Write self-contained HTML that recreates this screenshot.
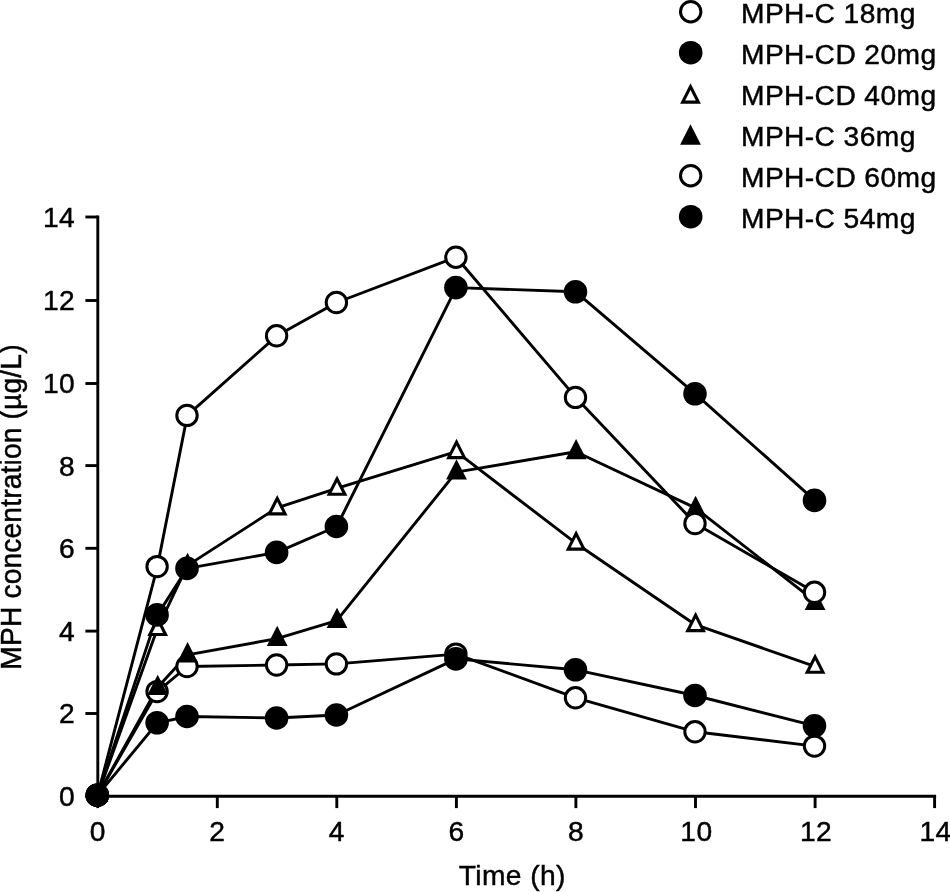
<!DOCTYPE html>
<html lang="en"><head><meta charset="utf-8"><title>MPH concentration vs time</title>
<style>
html,body{margin:0;padding:0;background:#fff}
svg{display:block}
text{font-family:"Liberation Sans",Arial,Helvetica,sans-serif;font-size:28.2px;letter-spacing:0.4px;fill:#000;stroke:#000;stroke-width:0.45px}
</style></head><body>
<svg width="950" height="892" viewBox="0 0 950 892">
<rect width="950" height="892" fill="#fff"/>
<g stroke="#000" stroke-width="2.9" fill="none">
<path d="M97.8,215.6 V797.7"/>
<path d="M96.3,796.2 H936.1"/>
<path d="M85.4,217.0 H97.8"/>
<path d="M85.4,300.5 H97.8"/>
<path d="M85.4,383.5 H97.8"/>
<path d="M85.4,465.6 H97.8"/>
<path d="M85.4,548.3 H97.8"/>
<path d="M85.4,631.1 H97.8"/>
<path d="M85.4,713.5 H97.8"/>
<path d="M85.4,796.4 H97.8"/>
<path d="M97.7,796.2 V808.1"/>
<path d="M217.3,796.2 V808.1"/>
<path d="M336.8,796.2 V808.1"/>
<path d="M456.4,796.2 V808.1"/>
<path d="M575.9,796.2 V808.1"/>
<path d="M695.5,796.2 V808.1"/>
<path d="M815.1,796.2 V808.1"/>
<path d="M934.6,796.2 V808.1"/>
</g>
<g>
<text x="75.2" y="226.9" text-anchor="end">14</text>
<text x="75.2" y="310.4" text-anchor="end">12</text>
<text x="75.2" y="393.4" text-anchor="end">10</text>
<text x="75.2" y="475.5" text-anchor="end">8</text>
<text x="75.2" y="558.2" text-anchor="end">6</text>
<text x="75.2" y="641.0" text-anchor="end">4</text>
<text x="75.2" y="723.4" text-anchor="end">2</text>
<text x="75.2" y="806.3" text-anchor="end">0</text>
<text x="97.8" y="840.7" text-anchor="middle">0</text>
<text x="217.4" y="840.7" text-anchor="middle">2</text>
<text x="336.9" y="840.7" text-anchor="middle">4</text>
<text x="456.5" y="840.7" text-anchor="middle">6</text>
<text x="576.0" y="840.7" text-anchor="middle">8</text>
<text x="696.4" y="840.7" text-anchor="middle">10</text>
<text x="816.0" y="840.7" text-anchor="middle">12</text>
<text x="935.5" y="840.7" text-anchor="middle">14</text>
</g>
<g>
<text x="512.3" y="885.4" text-anchor="middle">Time (h)</text>
<text transform="translate(20.8,507.0) scale(1.06,1) rotate(-90)" text-anchor="middle" style="letter-spacing:0.15px">MPH concentration (µg/L)</text>
</g>
<g fill="none" stroke="#000" stroke-width="2.9" stroke-linejoin="round">
<polyline points="97.6,795.2 157.4,691.6 187.3,666.5 276.9,665.0 336.7,663.9 456.2,654.1 575.8,697.8 695.3,731.8 814.8,746.1"/>
<polyline points="97.6,795.2 157.4,722.8 187.3,716.5 276.9,718.0 336.7,715.0 456.2,658.9 575.8,669.8 695.3,695.5 814.8,725.8"/>
<polyline points="97.6,795.2 157.4,628.6 187.3,565.6 276.9,507.9 336.7,488.3 456.2,451.7 575.8,543.2 695.3,624.7 814.8,666.3"/>
<polyline points="97.6,795.2 157.4,687.6 187.3,654.9 276.9,638.6 336.7,620.6 456.2,472.1 575.8,451.7 695.3,507.9 814.8,601.1"/>
<polyline points="97.6,795.2 157.4,566.6 187.3,415.4 276.9,335.8 336.7,302.5 456.2,257.2 575.8,397.4 695.3,523.5 814.8,592.3"/>
<polyline points="97.6,795.2 157.4,614.9 187.3,568.4 276.9,552.4 336.7,526.5 456.2,287.6 575.8,291.8 695.3,393.8 814.8,500.4"/>
</g>
<g><circle cx="97.3" cy="795.2" r="10.2" fill="#fff" stroke="#000" stroke-width="3"/><circle cx="157.1" cy="691.6" r="10.2" fill="#fff" stroke="#000" stroke-width="3"/><circle cx="187.0" cy="666.5" r="10.2" fill="#fff" stroke="#000" stroke-width="3"/><circle cx="276.6" cy="665.0" r="10.2" fill="#fff" stroke="#000" stroke-width="3"/><circle cx="336.4" cy="663.9" r="10.2" fill="#fff" stroke="#000" stroke-width="3"/><circle cx="455.9" cy="654.1" r="10.2" fill="#fff" stroke="#000" stroke-width="3"/><circle cx="575.5" cy="697.8" r="10.2" fill="#fff" stroke="#000" stroke-width="3"/><circle cx="695.0" cy="731.8" r="10.2" fill="#fff" stroke="#000" stroke-width="3"/><circle cx="814.5" cy="746.1" r="10.2" fill="#fff" stroke="#000" stroke-width="3"/></g>
<g><circle cx="97.3" cy="795.2" r="11.8"/><circle cx="157.1" cy="722.8" r="11.8"/><circle cx="187.0" cy="716.5" r="11.8"/><circle cx="276.6" cy="718.0" r="11.8"/><circle cx="336.4" cy="715.0" r="11.8"/><circle cx="455.9" cy="658.9" r="11.8"/><circle cx="575.5" cy="669.8" r="11.8"/><circle cx="695.0" cy="695.5" r="11.8"/><circle cx="814.5" cy="725.8" r="11.8"/></g>
<g><polygon points="97.9,781.6 108.3,802.0 87.5,802.0"/><polygon fill="#fff" points="97.9,788.4 103.2,798.9 92.6,798.9"/><polygon points="157.7,615.7 168.1,636.1 147.3,636.1"/><polygon fill="#fff" points="157.7,622.5 163.0,633.0 152.3,633.0"/><polygon points="187.6,552.7 198.0,573.1 177.2,573.1"/><polygon fill="#fff" points="187.6,559.5 192.9,570.0 182.2,570.0"/><polygon points="277.2,495.0 287.6,515.4 266.8,515.4"/><polygon fill="#fff" points="277.2,501.8 282.6,512.3 271.9,512.3"/><polygon points="337.0,475.4 347.4,495.8 326.6,495.8"/><polygon fill="#fff" points="337.0,482.2 342.3,492.7 331.6,492.7"/><polygon points="456.5,438.8 466.9,459.2 446.1,459.2"/><polygon fill="#fff" points="456.5,445.6 461.9,456.1 451.2,456.1"/><polygon points="576.1,530.3 586.5,550.7 565.7,550.7"/><polygon fill="#fff" points="576.1,537.1 581.4,547.6 570.7,547.6"/><polygon points="695.6,611.8 706.0,632.2 685.2,632.2"/><polygon fill="#fff" points="695.6,618.6 700.9,629.1 690.3,629.1"/><polygon points="815.1,653.4 825.5,673.8 804.7,673.8"/><polygon fill="#fff" points="815.1,660.2 820.5,670.7 809.8,670.7"/></g>
<g><polygon points="97.9,781.6 108.3,802.0 87.5,802.0"/><polygon points="157.7,674.7 168.1,695.1 147.3,695.1"/><polygon points="187.6,642.0 198.0,662.4 177.2,662.4"/><polygon points="277.2,625.7 287.6,646.1 266.8,646.1"/><polygon points="337.0,607.7 347.4,628.1 326.6,628.1"/><polygon points="456.5,459.2 466.9,479.6 446.1,479.6"/><polygon points="576.1,438.9 586.5,459.3 565.7,459.3"/><polygon points="695.6,495.8 706.0,516.2 685.2,516.2"/><polygon points="815.1,589.7 825.5,610.1 804.7,610.1"/></g>
<g><circle cx="97.3" cy="795.2" r="10.2" fill="#fff" stroke="#000" stroke-width="3"/><circle cx="157.1" cy="566.6" r="10.2" fill="#fff" stroke="#000" stroke-width="3"/><circle cx="187.0" cy="415.4" r="10.2" fill="#fff" stroke="#000" stroke-width="3"/><circle cx="276.6" cy="335.8" r="10.2" fill="#fff" stroke="#000" stroke-width="3"/><circle cx="336.4" cy="302.5" r="10.2" fill="#fff" stroke="#000" stroke-width="3"/><circle cx="455.9" cy="257.2" r="10.2" fill="#fff" stroke="#000" stroke-width="3"/><circle cx="575.5" cy="397.4" r="10.2" fill="#fff" stroke="#000" stroke-width="3"/><circle cx="695.0" cy="523.5" r="10.2" fill="#fff" stroke="#000" stroke-width="3"/><circle cx="814.5" cy="592.3" r="10.2" fill="#fff" stroke="#000" stroke-width="3"/></g>
<g><circle cx="97.3" cy="795.2" r="11.8"/><circle cx="157.1" cy="614.9" r="11.8"/><circle cx="187.0" cy="568.4" r="11.8"/><circle cx="276.6" cy="552.4" r="11.8"/><circle cx="336.4" cy="526.5" r="11.8"/><circle cx="455.9" cy="287.6" r="11.8"/><circle cx="575.5" cy="291.8" r="11.8"/><circle cx="695.0" cy="393.8" r="11.8"/><circle cx="814.5" cy="500.4" r="11.8"/></g>
<g>
<circle cx="690.7" cy="11.7" r="10.2" fill="#fff" stroke="#000" stroke-width="3"/>
<text x="741.0" y="23.2">MPH-C 18mg</text>
<circle cx="690.7" cy="52.7" r="11.8"/>
<text x="741.0" y="64.2">MPH-CD 20mg</text>
<polygon points="690.5,83.3 700.9,103.7 680.1,103.7"/><polygon fill="#fff" points="690.5,90.1 695.8,100.6 685.2,100.6"/>
<text x="741.0" y="105.2">MPH-CD 40mg</text>
<polygon points="690.5,124.3 700.9,144.7 680.1,144.7"/>
<text x="741.0" y="146.2">MPH-C 36mg</text>
<circle cx="690.7" cy="175.7" r="10.2" fill="#fff" stroke="#000" stroke-width="3"/>
<text x="741.0" y="187.2">MPH-CD 60mg</text>
<circle cx="690.7" cy="216.7" r="11.8"/>
<text x="741.0" y="228.2">MPH-C 54mg</text>
</g>
</svg></body></html>
